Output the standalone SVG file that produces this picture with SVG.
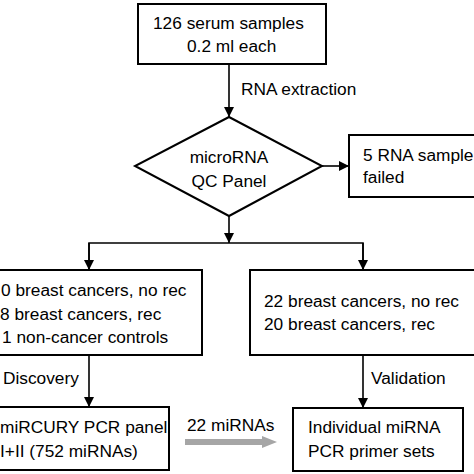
<svg xmlns="http://www.w3.org/2000/svg" width="474" height="474" viewBox="0 0 474 474">
<style>
.box{fill:#fff;stroke:#000;stroke-width:2}
.t{font-family:"Liberation Sans",Arial,sans-serif;font-size:17.3px;fill:#000}
.c{text-anchor:middle}
.ln{stroke:#000;stroke-width:1.6;fill:none}
</style>
<defs>
<marker id="ah" viewBox="0 0 10 10" refX="10" refY="5" markerWidth="10" markerHeight="10" markerUnits="userSpaceOnUse" orient="auto">
<path d="M0,0 L10,5 L0,10 Z" fill="#000"/>
</marker>
</defs>
<rect width="474" height="474" fill="#fff"/>
<g id="connectors">
<line class="ln" x1="229" y1="64" x2="229" y2="117" marker-end="url(#ah)"/>
<line class="ln" x1="322" y1="166" x2="349" y2="166" marker-end="url(#ah)"/>
<line class="ln" x1="229" y1="216" x2="229" y2="243" marker-end="url(#ah)"/>
<polyline class="ln" points="89,270 89,243 363,243 363,270"/>
<line class="ln" x1="89" y1="243" x2="89" y2="270" marker-end="url(#ah)"/>
<line class="ln" x1="363" y1="243" x2="363" y2="270" marker-end="url(#ah)"/>
<line class="ln" x1="89" y1="355" x2="89" y2="407" marker-end="url(#ah)"/>
<line class="ln" x1="363" y1="355" x2="363" y2="408" marker-end="url(#ah)"/>
<line x1="185" y1="442" x2="263" y2="442" stroke="#a6a6a6" stroke-width="6"/>
<polygon points="262,436 277,442 262,448" fill="#a6a6a6"/>
<text class="t" x="241" y="95">RNA extraction</text>
<text class="t" x="3" y="384">Discovery</text>
<text class="t" x="371" y="384">Validation</text>
<text class="t" x="187" y="431">22 miRNAs</text>
</g>
<g id="samples">
<rect class="box" x="138" y="4" width="188" height="60"/>
<text class="t" x="153" y="29">126 serum samples</text>
<text class="t" x="187" y="52">0.2 ml each</text>
</g>
<g id="qc">
<polygon class="box" points="229,117 322,166 229,216 135,166"/>
<text class="t c" x="229" y="163">microRNA</text>
<text class="t c" x="229" y="187">QC Panel</text>
</g>
<g id="failed">
<rect class="box" x="349" y="135" width="140" height="62"/>
<text class="t" x="363" y="161">5 RNA sample</text>
<text class="t" x="363" y="183">failed</text>
</g>
<g id="discovery-set">
<rect class="box" x="-10" y="270" width="212" height="85"/>
<text class="t" x="1" y="296">0 breast cancers, no rec</text>
<text class="t" x="0" y="320">8 breast cancers, rec</text>
<text class="t" x="2" y="343">1 non-cancer controls</text>
</g>
<g id="validation-set">
<rect class="box" x="250" y="270" width="235" height="85"/>
<text class="t" x="264" y="307">22 breast cancers, no rec</text>
<text class="t" x="264" y="330">20 breast cancers, rec</text>
</g>
<g id="panel">
<rect class="box" x="-10" y="407" width="179" height="63"/>
<text class="t" x="0" y="433">miRCURY PCR panel</text>
<text class="t" x="0" y="457">I+II (752 miRNAs)</text>
</g>
<g id="primers">
<rect class="box" x="293" y="408" width="170" height="63"/>
<text class="t" x="308" y="433">Individual miRNA</text>
<text class="t" x="308" y="457">PCR primer sets</text>
</g>
</svg>
